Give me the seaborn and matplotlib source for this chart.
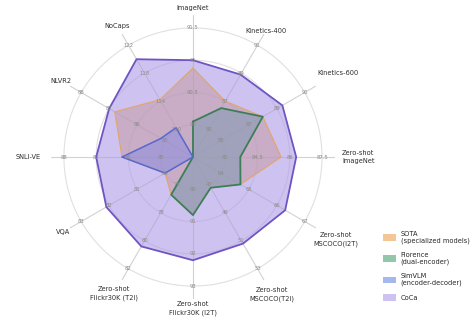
import numpy as np
import pandas as pd
import matplotlib
matplotlib.use("Agg")
import matplotlib.pyplot as plt
from matplotlib.patches import Patch
import seaborn as sns

# Benchmarks, clockwise from the top
categories = [
    "ImageNet", "Kinetics-400", "Kinetics-600", "Zero-shot\nImageNet",
    "Zero-shot\nMSCOCO(I2T)", "Zero-shot\nMSCOCO(T2I)", "Zero-shot\nFlickr30K (I2T)",
    "Zero-shot\nFlickr30K (T2I)", "VQA", "SNLI-VE", "NLVR2", "NoCaps",
]

# Ring labels for every spoke (inner ring -> outer ring)
axis_ticks = [
    [90, 90.5, 91, 91.5],
    [85, 87, 89, 91],
    [85, 87, 89, 91],
    [83, 84.5, 86, 87.5],
    [64, 65, 66, 67],
    [47, 49, 51, 53],
    [90, 91, 92, 93],
    [76, 78, 80, 82],
    [80, 81, 82, 83],
    [85, 86, 87, 88],
    [85, 86, 87, 88],
    [110, 114, 118, 122],
]

nan = np.nan
sota = [90.88, 87.0, 88.0, 85.6, 64.7, 47.2, 90.8, 76.7, 80.0, 86.2, 86.8, 114.2]
florence = [90.05, 86.5, 88.0, 83.7, 64.7, 47.2, 90.8, 76.7, nan, nan, nan, nan]
simvlm = [nan, nan, nan, nan, nan, nan, nan, nan, 80.0, 86.2, 85.15, 110.2]
coca = [91.0, 88.9, 89.4, 86.3, 66.3, 51.2, 92.2, 80.4, 82.1, 87.0, 87.0, 120.0]

models = ["SOTA\n(specialized models)", "Florence\n(dual-encoder)",
          "SimVLM\n(encoder-decoder)", "CoCa"]
series = [sota, florence, simvlm, coca]

fill_colors = ["#E8983F", "#3A9A66", "#4C72DE", "#AE9BE6"]
fill_alphas = [0.55, 0.55, 0.5, 0.6]
edge_colors = ["#E2A56A", "#3C7E58", "#5767CF", "#6F54C4"]
edge_widths = [0.8, 1.3, 1.1, 1.3]

n = len(categories)
theta = np.arange(n) * 2 * np.pi / n


def to_radius(values):
    out = []
    for v, ticks in zip(values, axis_ticks):
        step = ticks[1] - ticks[0]
        base = ticks[0] - step
        out.append(0.0 if np.isnan(v) else (v - base) / (4 * step))
    return np.array(out)


sns.set_theme(style="white")
plt.rcParams["font.family"] = ["DejaVu Sans"]

fig = plt.figure(figsize=(4.74, 3.23), dpi=100)
ax = fig.add_axes([0.1076, 0.0744, 0.599, 0.879], projection="polar")
ax.set_theta_offset(np.pi / 2)
ax.set_theta_direction(-1)
ax.set_ylim(0, 1.1)
ax.grid(False)
ax.spines["polar"].set_visible(False)
ax.set_facecolor("none")

# rings and spokes
ring_th = np.linspace(0, 2 * np.pi, 400)
for rr in [0.25, 0.5, 0.75, 1.0]:
    ax.plot(ring_th, np.full_like(ring_th, rr), color="#e0e0e0", lw=0.8, zorder=0)
for t in theta:
    ax.plot([t, t], [0, 1.1], color="#d2d2d2", lw=0.8, zorder=0)

# polygons, largest first
draw_order = [3, 0, 1, 2]
for k in draw_order:
    r = to_radius(series[k])
    th_c = np.append(theta, 2 * np.pi)
    r_c = np.append(r, r[0])
    ax.fill(th_c, r_c, color=fill_colors[k], alpha=fill_alphas[k], lw=0, zorder=1 + k * 0.1)
    df = pd.DataFrame({"theta": th_c, "r": r_c})
    sns.lineplot(data=df, x="theta", y="r", sort=False, estimator=None,
                 color=edge_colors[k], lw=edge_widths[k], ax=ax, zorder=2 + k * 0.1)
ax.set_xlabel("")
ax.set_ylabel("")
ax.set_xticks([])
ax.set_yticks([])
ax.set_ylim(0, 1.1)

# ring value labels on each spoke
for t, ticks in zip(theta, axis_ticks):
    for j, val in enumerate(ticks):
        ax.text(t, 0.25 * (j + 1), f"{val:g}", fontsize=3.8, color="#8a8a8a",
                ha="center", va="center", zorder=5)

# benchmark names
label_r = [1.155, 1.13, 1.30, 1.28, 1.28, 1.23, 1.17, 1.22, 1.16, 1.28, 1.18, 1.17]
for t, name, lr in zip(theta, categories, label_r):
    ax.text(t, lr, name, fontsize=4.8, color="#2e2e2e", ha="center", va="center",
            multialignment="center", linespacing=1.5)

handles = [Patch(facecolor=c, edgecolor="none", alpha=a)
           for c, a in zip(fill_colors, fill_alphas)]
fig.legend(handles, models, loc="upper left", bbox_to_anchor=(380 / 474, 1 - 228 / 323),
           frameon=False, fontsize=4.8, handlelength=2.0, handleheight=1.2,
           labelspacing=1.15, handletextpad=0.7, borderaxespad=0)

fig.savefig("out.png", dpi=100)
